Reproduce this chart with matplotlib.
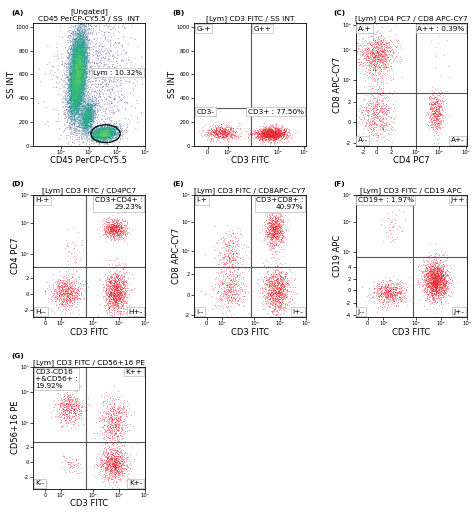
import numpy as np
import matplotlib
matplotlib.use("Agg")
import matplotlib.pyplot as plt
from matplotlib.patches import Ellipse

# Panel coords: x, y in 0..100 fraction of axis (except A and B y = SS INT 0..1000)
LOG_X_POS = [11, 25, 54, 77, 100]
LOG_X_LAB = ["0", "10¹", "10²", "10³", "10⁴"]

# Cluster tables: (cx, cy, sx, sy, n)
clusters_B = [(25, 110, 7, 30, 600), (69, 100, 7, 28, 1500)]
clusters_C = [(19, 75, 8, 8, 900), (19, 25, 7, 10, 500), (19, 52, 4, 9, 80), (72, 27, 3.5, 8, 500), (75, 75, 6, 9, 12)]
clusters_D = [(73, 72, 5, 4, 700), (74, 20, 5, 9, 1200), (30, 20, 7, 7, 700), (37, 52, 5, 9, 40)]
clusters_E = [(72, 72, 4, 7, 800), (74, 22, 6, 9, 1100), (32, 52, 6, 11, 300), (32, 22, 7, 8, 400)]
clusters_F = [(72, 30, 5.5, 8, 1800), (30, 20, 7, 5, 600), (33, 75, 4, 9, 45)]
clusters_G = [(72, 55, 6, 10, 600), (72, 20, 6, 6.5, 900), (33, 66, 6, 7, 500), (33, 20, 5, 4, 60)]
clusters_A = [(1.6, 600, 0.16, 190, 9000, 0.35), (1.95, 240, 0.14, 70, 1500, 0.3),
              (2.55, 100, 0.24, 30, 2500, 0.2), (2.2, 550, 0.7, 300, 1500, 0.0)]

rng = np.random.default_rng(3)
RED = "#e8202a"

def cloud(cl):
    xs, ys = [], []
    for cx, cy, sx, sy, n in cl:
        xs.append(rng.normal(cx, sx, n)); ys.append(rng.normal(cy, sy, n))
    return np.concatenate(xs), np.concatenate(ys)

fig = plt.figure(figsize=(4.74, 5.2), dpi=100)
FS = 5.2
plt.rcParams["font.size"] = FS

def box(ax, x, y, txt, ha="left", va="top"):
    ax.text(x, y, txt, transform=ax.transAxes, ha=ha, va=va, fontsize=FS,
            bbox=dict(boxstyle="square,pad=0.2", fc="white", ec="#bbbbbb", lw=0.5))

def setup(ax, letter, title, xl, yl):
    for s in ax.spines.values():
        s.set_linewidth(0.6)
    ax.tick_params(labelsize=3.8, length=2, width=0.5, pad=1)
    ax.set_title(title, fontsize=FS + 0.2, pad=2)
    ax.set_xlabel(xl, fontsize=FS + 0.8, labelpad=1)
    ax.set_ylabel(yl, fontsize=FS + 0.8, labelpad=0)
    ax.text(-0.2, 1.07, letter, transform=ax.transAxes, fontsize=FS, fontweight="bold")

def quad(ax, cl, vx, hy, ypos, ylab, labels, xpos=LOG_X_POS, xlab=LOG_X_LAB):
    x, y = cloud(cl)
    ax.scatter(x, y, s=0.3, c=RED, alpha=0.45, lw=0)
    ax.set_xlim(0, 100); ax.set_ylim(0, 100)
    ax.axvline(vx, color="#555555", lw=0.8); ax.axhline(hy, color="#555555", lw=0.8)
    ax.set_xticks(xpos, xlab); ax.set_yticks(ypos, ylab)
    box(ax, 0.02, 0.98, labels[0]); box(ax, 0.98, 0.98, labels[1], ha="right")
    box(ax, 0.02, 0.02, labels[2], va="bottom"); box(ax, 0.98, 0.02, labels[3], ha="right", va="bottom")

W, H = 0.235, 0.235
cols = [0.07, 0.41, 0.75]
rows = [0.72, 0.39, 0.06]

# (A)
ax = fig.add_axes([cols[0], rows[0], W, H])
xs, ys = [], []
for cx, cy, sx, sy, n, rho in clusters_A:
    z1 = rng.normal(size=n); z2 = rng.normal(size=n)
    xs.append(cx + sx * z1); ys.append(cy + sy * (rho * z1 + np.sqrt(1 - rho**2) * z2))
x, y = np.concatenate(xs), np.concatenate(ys)
h, xe, ye = np.histogram2d(x, y, bins=40, range=[[0, 4], [0, 1050]])
ix = np.clip(np.digitize(x, xe) - 1, 0, 39); iy = np.clip(np.digitize(y, ye) - 1, 0, 39)
d = h[ix, iy]; o = np.argsort(d)
ax.scatter(x[o], y[o], s=0.25, c=np.log1p(d[o]), cmap="viridis", vmin=0.5, vmax=6.5, lw=0)
ax.add_patch(Ellipse((2.6, 100), 1.05, 150, angle=0, facecolor="none", edgecolor="k", lw=0.9))
ax.set_xlim(0, 4); ax.set_ylim(0, 1030)
ax.set_xticks([1, 2, 3, 4], ["10⁰", "10¹", "10²", "10³"])
ax.set_yticks([0, 200, 400, 600, 800, 1000])
box(ax, 0.98, 0.62, "Lym : 10.32%", ha="right")
setup(ax, "(A)", "[Ungated]\nCD45 PerCP-CY5.5 / SS  INT", "CD45 PerCP-CY5.5", "SS INT")

# (B)
ax = fig.add_axes([cols[1], rows[0], W, H])
x, y = cloud(clusters_B)
ax.scatter(x, y, s=0.3, c=RED, alpha=0.45, lw=0)
ax.set_xlim(0, 100); ax.set_ylim(0, 1030)
ax.axvline(51, color="#555555", lw=0.8); ax.axhline(320, color="#555555", lw=0.8)
ax.set_xticks([12, 30, 75, 98], ["0", "10¹", "10²", "10³"])
ax.set_yticks([0, 200, 400, 600, 800, 1000])
box(ax, 0.02, 0.98, "G-+"); box(ax, 0.53, 0.98, "G++")
box(ax, 0.02, 0.3, "CD3-"); box(ax, 0.98, 0.3, "CD3+ : 77.50%", ha="right")
setup(ax, "(B)", "[Lym] CD3 FITC / SS INT", "CD3 FITC", "SS INT")

# (C)
ax = fig.add_axes([cols[2], rows[0], W, H])
quad(ax, clusters_C, 54, 43, [2.5, 19, 36, 54, 78, 99], ["-2", "0", "2", "10¹", "10²", "10³"],
     ["A-+", "A++ : 0.39%", "A--", "A+-"],
     [7.5, 19, 32, 54, 75, 99], ["-2", "0", "2", "10¹", "10²", "10³"])
setup(ax, "(C)", "[Lym] CD4 PC7 / CD8 APC-CY7", "CD4 PC7", "CD8 APC-CY7")

# (D)
ax = fig.add_axes([cols[0], rows[1], W, H])
quad(ax, clusters_D, 47, 41, [6, 19, 32, 52, 77, 100], ["-2", "0", "2", "10¹", "10²", "10³"],
     ["H-+", "CD3+CD4+ :\n29.23%", "H--", "H+-"])
setup(ax, "(D)", "[Lym] CD3 FITC / CD4PC7", "CD3 FITC", "CD4 PC7")

# (E)
ax = fig.add_axes([cols[1], rows[1], W, H])
quad(ax, clusters_E, 51, 41, [2, 18, 35, 54, 78, 100], ["-2", "0", "2", "10¹", "10²", "10³"],
     ["I-+", "CD3+CD8+ :\n40.97%", "I--", "I+-"])
setup(ax, "(E)", "[Lym] CD3 FITC / CD8APC-CY7", "CD3 FITC", "CD8 APC-CY7")

# (F)
ax = fig.add_axes([cols[2], rows[1], W, H])
quad(ax, clusters_F, 52, 49, [2, 12, 22, 31, 41, 53, 78, 100],
     ["-4", "-2", "0", "2", "4", "10¹", "10²", "10³"],
     ["CD19+ : 1.97%", "J++", "J--", "J+-"])
setup(ax, "(F)", "[Lym] CD3 FITC / CD19 APC", "CD3 FITC", "CD19 APC")

# (G)
ax = fig.add_axes([cols[0], rows[2], W, H])
quad(ax, clusters_G, 47, 38, [10, 22, 34, 54, 79, 100], ["-2", "0", "2", "10¹", "10²", "10³"],
     ["CD3-CD16\n+&CD56+ :\n19.92%", "K++", "K--", "K+-"])
setup(ax, "(G)", "[Lym] CD3 FITC / CD56+16 PE", "CD3 FITC", "CD56+16 PE")

fig.savefig("out.png", dpi=100)
